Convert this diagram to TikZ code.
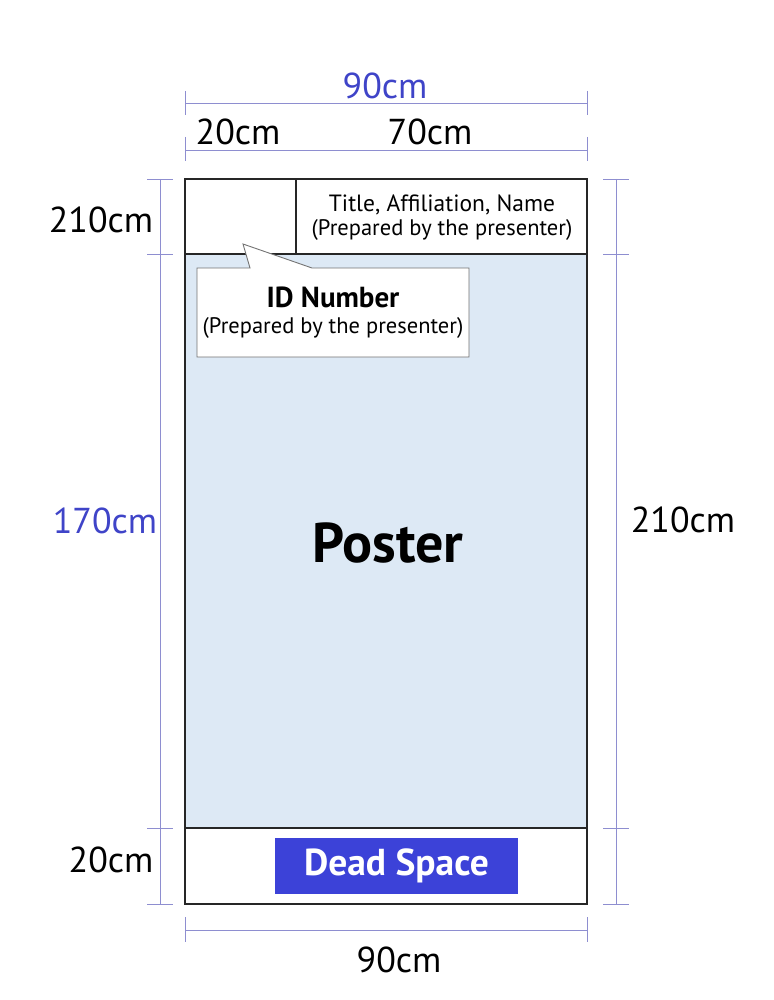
\documentclass[tikz,border=0pt]{standalone}
\usepackage{fontspec}
\setmainfont{PT Sans}
\definecolor{dimc}{HTML}{8E8ED0}
\definecolor{dimtxt}{HTML}{3F44C8}
\definecolor{posterfill}{HTML}{DDE9F5}
\definecolor{deadfill}{HTML}{3C42D8}
\begin{document}
\begin{tikzpicture}[x=1pt,y=-1pt,
  dimline/.style={draw=dimc, line width=0.9pt},
  framel/.style={draw=black!85, line width=1.2pt},
  dimlabel/.style={font=\fontsize{36}{38}\selectfont, inner sep=0pt},
  smalltxt/.style={font=\fontsize{22.5}{26}\selectfont, inner sep=0pt, align=center}]
\useasboundingbox (0,0) rectangle (773,1000);
% poster area
\fill[posterfill] (185,254) rectangle (587,828);
\draw[framel] (185,179) rectangle (587,904);
\draw[framel] (185,254) -- (587,254);
\draw[framel] (185,828) -- (587,828);
\draw[framel] (296,179) -- (296,254);
% top dimensions
\draw[dimline] (185,103) -- (587,103);
\draw[dimline] (185,91) -- (185,115);
\draw[dimline] (587,91) -- (587,115);
\draw[dimline] (185,150) -- (587,150);
\draw[dimline] (185,137) -- (185,161);
\draw[dimline] (587,137) -- (587,161);
\node[dimlabel, text=dimtxt] (w90) at (385,86) {90cm};
\node[dimlabel] (w20) at (238,132) {20cm};
\node[dimlabel] (w70) at (430,132) {70cm};
% left dimensions
\draw[dimline] (160,179) -- (160,904);
\foreach \yy in {179,254,828,904} \draw[dimline] (147,\yy) -- (173,\yy);
\node[dimlabel] (h1) at (101,220) {210cm};
\node[dimlabel, text=dimtxt] (h2) at (105,521) {170cm};
\node[dimlabel] (h3) at (111,860) {20cm};
% right dimensions
\draw[dimline] (616,179) -- (616,904);
\foreach \yy in {179,254,828,904} \draw[dimline] (603,\yy) -- (629,\yy);
\node[dimlabel] (hr) at (683,520) {210cm};
% bottom dimension
\draw[dimline] (185,930) -- (587,930);
\draw[dimline] (185,917) -- (185,942);
\draw[dimline] (587,917) -- (587,942);
\node[dimlabel] (wb) at (399,960) {90cm};
% header text
\node[smalltxt, font=\fontsize{23.5}{26}\selectfont] (title) at (442,205) {Title, Affiliation, Name};
\node[smalltxt] (titlesub) at (442,230) {(Prepared by the presenter)};
% callout
\draw[fill=white, draw=black!55, line width=0.9pt] (197,268) -- (250,268) -- (243,244) -- (312,268) -- (469,268) -- (469,357) -- (197,357) -- cycle;
\node[font=\bfseries\fontsize{29}{32}\selectfont, inner sep=0pt] (idn) at (333,297) {ID Number};
\node[smalltxt] (idsub) at (333,328) {(Prepared by the presenter)};
% poster label
\node[font=\bfseries\fontsize{56}{60}\selectfont, inner sep=0pt] (poster) at (388,543) {Poster};
% dead space
\node[fill=deadfill, minimum width=243pt, minimum height=56pt, inner sep=0pt, text=white, font=\bfseries\fontsize{37.5}{40}\selectfont] (dead) at (396.5,866) {Dead Space};
\end{tikzpicture}
\end{document}
